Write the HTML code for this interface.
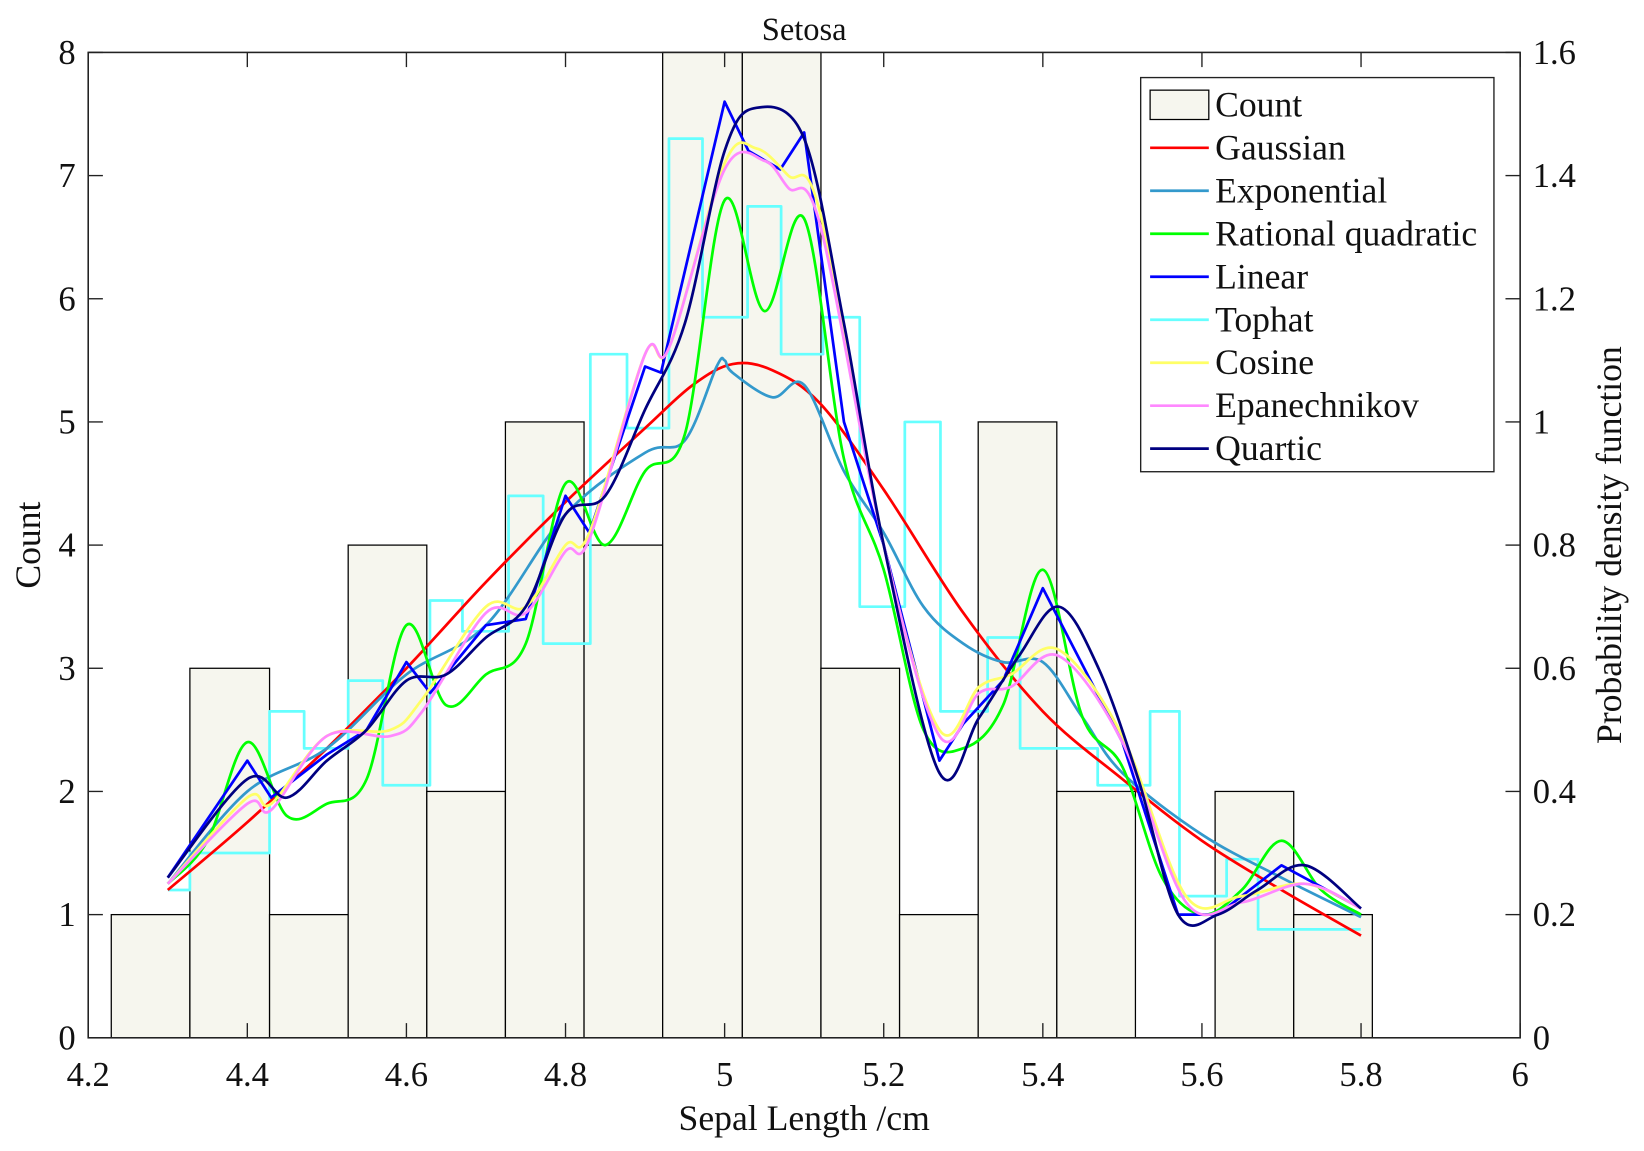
<!DOCTYPE html>
<html><head><meta charset="utf-8"><style>
html,body{margin:0;padding:0;background:#fff;}
svg{display:block;}
text{font-family:"Liberation Serif",serif;fill:#111;}
</style></head><body>
<svg id="s" width="1644" height="1151" viewBox="0 0 1568 1098" xmlns="http://www.w3.org/2000/svg">
<g id="bars"></g>
<g id="curves" fill="none" stroke-width="2.6" stroke-linejoin="round"></g>
<g id="axes"></g>
<text x="767" y="38" font-size="31" text-anchor="middle">Setosa</text>
<text x="767" y="1078" font-size="34" text-anchor="middle">Sepal Length /cm</text>
<text transform="translate(38,520) rotate(-90)" font-size="34" text-anchor="middle">Count</text>
<text transform="translate(1546,520) rotate(-90)" font-size="34" text-anchor="middle">Probability density function</text>
<g id="legend"></g>
</svg>
<script>
const NS="http://www.w3.org/2000/svg";
function el(p,t,a,txt){const e=document.createElementNS(NS,t);for(const k in a)e.setAttribute(k,a[k]);if(txt!==undefined)e.textContent=txt;p.appendChild(e);return e;}
const X=v=>84+(v-4.2)/1.8*1366, Y=c=>990-c*117.5;
const bars=document.getElementById('bars');
const edges=[106,181,257,332,407,482,557,632,708,783,858,933,1008,1083,1159,1234,1309];
const h=[1,3,1,4,2,5,4,8,8,3,1,5,2,0,2,1];
for(let i=0;i<16;i++){if(!h[i])continue;el(bars,'rect',{x:edges[i],y:Y(h[i]),width:edges[i+1]-edges[i],height:h[i]*117.5,fill:'#f6f6ee',stroke:'#000','stroke-width':1.2});}
const ax=document.getElementById('axes');
el(ax,'rect',{x:84,y:50,width:1366,height:940,fill:'none',stroke:'#222','stroke-width':1.5});
for(let i=0;i<=9;i++){const v=4.2+i*0.2,x=X(v);el(ax,'line',{x1:x,y1:990,x2:x,y2:976,stroke:'#222','stroke-width':1.3});el(ax,'line',{x1:x,y1:50,x2:x,y2:64,stroke:'#222','stroke-width':1.3});
 el(ax,'text',{x:x,y:1036,'font-size':33,'text-anchor':'middle'},(Math.round(v*10)/10).toString());}
for(let c=0;c<=8;c++){const y=Y(c);el(ax,'line',{x1:84,y1:y,x2:98,y2:y,stroke:'#222','stroke-width':1.3});el(ax,'line',{x1:1450,y1:y,x2:1436,y2:y,stroke:'#222','stroke-width':1.3});
 el(ax,'text',{x:72,y:y+11,'font-size':33,'text-anchor':'end'},String(c));
 const r=c*0.2;el(ax,'text',{x:1462,y:y+11,'font-size':33},c==0?'0':(c%5==0?String(r):r.toFixed(1)));}
function smooth(pts){let d='M'+X(pts[0][0])+','+Y(pts[0][1]);const P=pts.map(p=>[X(p[0]),Y(p[1])]);
 for(let i=0;i<P.length-1;i++){const p0=P[Math.max(0,i-1)],p1=P[i],p2=P[i+1],p3=P[Math.min(P.length-1,i+2)];
  d+=' C'+(p1[0]+(p2[0]-p0[0])/6)+','+(p1[1]+(p2[1]-p0[1])/6)+' '+(p2[0]-(p3[0]-p1[0])/6)+','+(p2[1]-(p3[1]-p1[1])/6)+' '+p2[0]+','+p2[1];}return d;}
function lin(pts){return 'M'+pts.map(p=>X(p[0])+','+Y(p[1])).join(' L');}
const cv=document.getElementById('curves');
const th=[[160,1.2],[181,1.5],[257,2.65],[290,2.35],[332,2.9],[365,2.05],[410,3.55],[441,3.3],[485,4.4],[518,3.2],[563,5.55],[598,4.95],[638,7.3],[670,5.85],[713,6.75],[745,5.55],[785,5.85],[820,3.5],[863,5.0],[897,2.65],[942,3.25],[973,2.35],[1047,2.05],[1097,2.65],[1125,1.15],[1170,1.45],[1200,0.88],[1298,0.88]];
let d='M'+th[0][0]+','+Y(th[0][1]);for(let i=1;i<th.length;i++){d+=' H'+th[i][0]+' V'+Y(th[i][1]);}
el(cv,'path',{d:d,stroke:'#66ffff'});
const ga=[[4.3,1.2],[4.4,1.75],[4.5,2.35],[4.6,3.0],[4.7,3.7],[4.8,4.35],[4.9,4.95],[4.96,5.3],[5.01,5.47],[5.06,5.42],[5.12,5.15],[5.2,4.45],[5.3,3.45],[5.4,2.65],[5.5,2.1],[5.6,1.6],[5.7,1.2],[5.8,0.83]];
el(cv,'path',{d:smooth(ga),stroke:'#ff0000'});
const expo=[[4.3,1.25],[4.4,2.0],[4.5,2.35],[4.6,2.95],[4.7,3.35],[4.8,4.25],[4.9,4.75],[4.95,4.85],[4.99,5.45],[5.0,5.5],[5.01,5.4],[5.06,5.2],[5.1,5.3],[5.15,4.6],[5.2,4.1],[5.25,3.5],[5.3,3.2],[5.35,3.05],[5.4,3.05],[5.45,2.6],[5.5,2.15],[5.6,1.65],[5.7,1.3],[5.8,0.98]];
el(cv,'path',{d:smooth(expo),stroke:'#3399cc'});
const rq=[[4.3,1.25],[4.35,1.6],[4.4,2.4],[4.45,1.8],[4.5,1.9],[4.55,2.1],[4.6,3.35],[4.65,2.7],[4.7,2.95],[4.75,3.2],[4.8,4.5],[4.85,4.0],[4.9,4.6],[4.95,4.9],[5.0,6.8],[5.05,5.9],[5.1,6.65],[5.15,4.7],[5.2,3.8],[5.25,2.5],[5.3,2.35],[5.35,2.7],[5.4,3.8],[5.45,2.6],[5.5,2.2],[5.55,1.3],[5.6,1.0],[5.65,1.2],[5.7,1.6],[5.75,1.2],[5.8,1.0]];
el(cv,'path',{d:smooth(rq),stroke:'#00ff00'});
const li=[[4.3,1.3],[4.4,2.25],[4.43,1.95],[4.5,2.3],[4.55,2.5],[4.6,3.05],[4.63,2.8],[4.7,3.35],[4.75,3.4],[4.8,4.4],[4.83,4.1],[4.9,5.45],[4.92,5.4],[5.0,7.6],[5.03,7.2],[5.07,7.05],[5.1,7.35],[5.15,5.0],[5.2,4.0],[5.27,2.25],[5.3,2.55],[5.35,2.9],[5.4,3.65],[5.5,2.4],[5.57,1.0],[5.62,1.0],[5.7,1.4],[5.8,1.05]];
el(cv,'path',{d:lin(li),stroke:'#0000ff'});
const co=[[4.3,1.25],[4.4,1.95],[4.43,1.9],[4.5,2.45],[4.58,2.5],[4.62,2.75],[4.7,3.5],[4.75,3.5],[4.8,4.0],[4.83,4.1],[4.9,5.55],[4.93,5.6],[5.0,7.1],[5.04,7.22],[5.08,7.0],[5.12,6.7],[5.2,4.0],[5.27,2.5],[5.32,2.85],[5.36,2.95],[5.42,3.15],[5.5,2.45],[5.58,1.15],[5.65,1.15],[5.73,1.25],[5.8,1.05]];
el(cv,'path',{d:smooth(co),stroke:'#ffff66'});
const ep=[[4.3,1.25],[4.4,1.9],[4.43,1.85],[4.5,2.45],[4.58,2.45],[4.62,2.65],[4.7,3.45],[4.75,3.45],[4.8,3.95],[4.83,4.05],[4.9,5.55],[4.93,5.6],[5.0,7.05],[5.05,7.12],[5.08,6.9],[5.12,6.6],[5.2,4.0],[5.27,2.45],[5.32,2.8],[5.36,2.85],[5.42,3.1],[5.5,2.4],[5.58,1.1],[5.65,1.1],[5.73,1.25],[5.8,1.05]];
el(cv,'path',{d:smooth(ep),stroke:'#ff88ff'});
const qu=[[4.3,1.3],[4.4,2.1],[4.45,1.95],[4.5,2.25],[4.55,2.5],[4.6,2.9],[4.65,2.95],[4.7,3.25],[4.75,3.5],[4.8,4.25],[4.85,4.4],[4.9,5.1],[4.95,5.8],[5.0,7.2],[5.04,7.55],[5.1,7.3],[5.15,5.8],[5.2,4.0],[5.27,2.15],[5.32,2.6],[5.37,3.1],[5.42,3.5],[5.47,3.0],[5.52,2.1],[5.57,1.0],[5.62,1.0],[5.67,1.2],[5.73,1.4],[5.8,1.05]];
el(cv,'path',{d:smooth(qu),stroke:'#000080'});
const lg=document.getElementById('legend');
el(lg,'rect',{x:1088,y:74,width:337,height:376,fill:'#fff',stroke:'#222','stroke-width':1.3});
el(lg,'rect',{x:1097,y:86,width:56,height:28,fill:'#f6f6ee',stroke:'#000','stroke-width':1.2});
const L=[['Count',null],['Gaussian','#ff0000'],['Exponential','#3399cc'],['Rational quadratic','#00ff00'],['Linear','#0000ff'],['Tophat','#66ffff'],['Cosine','#ffff66'],['Epanechnikov','#ff88ff'],['Quartic','#000080']];
L.forEach((e,i)=>{const y=100+i*41;if(e[1])el(lg,'line',{x1:1097,y1:y,x2:1153,y2:y,stroke:e[1],'stroke-width':2.6});
 el(lg,'text',{x:1159,y:y+11,'font-size':34},e[0]);});
</script>
</body></html>
